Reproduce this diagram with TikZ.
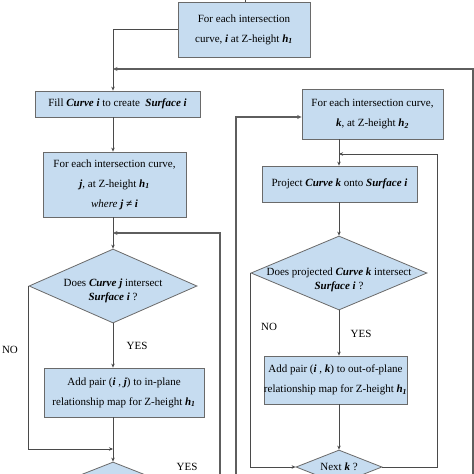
\documentclass[tikz,border=0pt]{standalone}
\usepackage{fontspec}
\setmainfont{Liberation Serif}
\usetikzlibrary{shapes.geometric,arrows.meta,calc}
\definecolor{boxblue}{HTML}{C6DCF0}
\definecolor{edgegrey}{HTML}{6A6A6A}
\definecolor{wiregrey}{HTML}{4A4A4A}
\definecolor{loopgrey}{HTML}{5E5E5E}
\newcommand{\bi}[1]{\textbf{\textit{#1}}}
\newcommand{\hsub}[1]{\bi{h}\textsubscript{\bi{#1}}}
\begin{document}
\begin{tikzpicture}[x=1pt,y=-1pt,
  box/.style={draw=edgegrey, fill=boxblue, line width=0.8pt, align=center, inner sep=0pt, font=\fontsize{11}{20}\selectfont},
  dia/.style={draw=edgegrey, fill=boxblue, line width=0.8pt, diamond, inner sep=0pt},
  diatext/.style={align=center, inner sep=0pt, font=\fontsize{11}{13.5}\selectfont},
  lbl/.style={inner sep=0pt, font=\fontsize{11}{13}\selectfont},
  wire/.style={draw=wiregrey, line width=0.8pt},
  arr/.style={wire, -{Stealth[length=4pt,width=3.5pt]}},
  loopwire/.style={draw=loopgrey, line width=1.4pt},
  looparr/.style={loopwire, -{Stealth[length=4.5pt,width=4pt]}}
]
\useasboundingbox (0,0) rectangle (474,474);
\fill[white] (0,0) rectangle (474,474);

\coordinate (sL) at (113,0);
\coordinate (sR) at (339,0);

% boxes
\node[box, minimum width=132pt, minimum height=55pt] (top) at (244,29.5)
  {For each intersection\\curve, \bi{i} at Z-height \hsub{1}};
\node[box, minimum width=165pt, minimum height=26pt] (fill) at (117.5,104)
  {Fill \bi{Curve i} to create \ \bi{Surface i}};
\node[box, minimum width=143pt, minimum height=65pt] (jbox) at (114.5,184.5)
  {For each intersection curve,\\\bi{j}, at Z-height \hsub{1}\\\textit{where} \bi{j ≠ i}};
\node[dia, minimum width=168pt, minimum height=74pt] (dj) at (113,286) {};
\node[diatext] (djt) at (113,291) {Does \bi{Curve j} intersect\\\bi{Surface i} ?};
\node[box, minimum width=160pt, minimum height=49pt] (addj) at (124,392.5)
  {Add pair (\bi{i} , \bi{j}) to in-plane\\relationship map for Z-height \hsub{1}};
\node[dia, minimum width=86pt, minimum height=34pt] (nj) at (113,479) {};

\node[box, minimum width=141pt, minimum height=50pt] (kbox) at (372.5,114)
  {For each intersection curve,\\\bi{k}, at Z-height \hsub{2}};
\node[box, minimum width=155pt, minimum height=36pt] (proj) at (339.5,184)
  {Project \bi{Curve k} onto \bi{Surface i}};
\node[dia, minimum width=176pt, minimum height=74pt] (dk) at (339,273) {};
\node[diatext] (dkt) at (339,280) {Does projected \bi{Curve k} intersect\\\bi{Surface i} ?};
\node[box, minimum width=127pt, minimum height=48pt] (addk) at (335.5,380)
  {Add pair (\bi{i} , \bi{k}) to out-of-plane\\relationship map for Z-height \hsub{1}};
\node[dia, minimum width=86pt, minimum height=34pt] (nk) at (339,467) {};
\node[diatext] (nkt) at (339,467) {Next \bi{k} ?};

% labels
\node[lbl] (no1) at (10,350) {NO};
\node[lbl] (yes1) at (137,346) {YES};
\node[lbl] (yes2) at (187,467) {YES};
\node[lbl] (no2) at (269,327) {NO};
\node[lbl] (yes3) at (361,334) {YES};

% coordinates for free ends
\coordinate (topin) at (245,0);
\coordinate (rtop) at (473,69);
\coordinate (rbot) at (473,474);
\coordinate (jr) at (220,233);
\coordinate (jl) at (220,474);
\coordinate (jmerge) at (113,449);
\coordinate (kin) at (236,117);
\coordinate (kl) at (236,474);
\coordinate (kr) at (437,154);

% connectors left
\draw[wire] (topin) -- (topin |- top.north);
\draw[arr] (top.west) -| (fill.north -| sL);
\draw[looparr] (rbot) -- (rtop) -- (rtop -| sL);
\draw[arr] (fill.south -| sL) -- (jbox.north -| sL);
\draw[arr] (jbox.south -| sL) -- (dj.north);
\draw[looparr] (jl) -- (jr) -- (jr -| sL);
\draw[arr] (dj.south) -- (addj.north -| sL);
\draw[arr] (dj.west) |- (jmerge);
\draw[arr] (addj.south -| sL) -- (nj.north);

% connectors right
\draw[looparr] (kl) -- (kin) -- (kin -| kbox.west);
\draw[arr] (kbox.south -| sR) -- (proj.north -| sR);
\draw[arr] (nk.east) -| (kr) -- (kr -| sR);
\draw[arr] (proj.south -| sR) -- (dk.north);
\draw[arr] (dk.west) |- (nk.west);
\draw[arr] (dk.south) -- (addk.north -| sR);
\draw[arr] (addk.south -| sR) -- (nk.north);
\end{tikzpicture}
\end{document}
